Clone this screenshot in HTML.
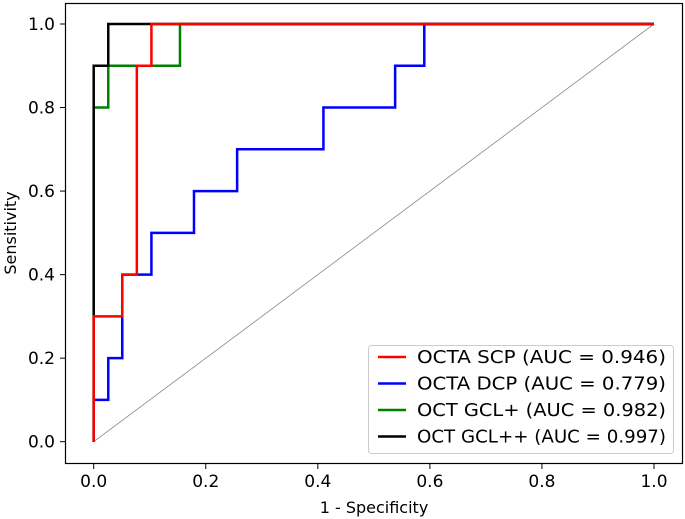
<!DOCTYPE html>
<html><head><meta charset="utf-8"><style>
body{margin:0;background:#fff;}
svg{display:block;font-family:"DejaVu Sans","Liberation Sans",sans-serif;}
</style></head><body>
<svg id="chart" width="685" height="519">
<rect x="65.5" y="3.5" width="617" height="460" fill="#fff" stroke="#000" stroke-width="1.2"/>
<g id="ticks"></g>
<g id="lines"></g>
<text x="16" y="233" transform="rotate(-90 16 233)" text-anchor="middle" font-size="16">Sensitivity</text>
<text x="374" y="513" text-anchor="middle" font-size="16">1 - Specificity</text>
<g>
<rect x="368.5" y="345.5" width="305" height="108" rx="3" fill="#fff" stroke="#ccc"/>
<g id="legend"></g>
</g>
</svg>
<script>
const seriesNames=["OCTA SCP (AUC = 0.946)","OCTA DCP (AUC = 0.779)","OCT GCL+ (AUC = 0.982)","OCT GCL++ (AUC = 0.997)"];
const seriesColors=["red","blue","green","black"];
const fprSCP=[0,0,0.051,0.051,0.077,0.077,0.103,0.103,1];
const tprSCP=[0,0.3,0.3,0.4,0.4,0.9,0.9,1,1];
const fprDCP=[0,0,0.026,0.026,0.051,0.051,0.103,0.103,0.179,0.179,0.256,0.256,0.41,0.41,0.538,0.538,0.59,0.59,1];
const tprDCP=[0,0.1,0.1,0.2,0.2,0.4,0.4,0.5,0.5,0.6,0.6,0.7,0.7,0.8,0.8,0.9,0.9,1,1];
const fprGCL1=[0,0,0.026,0.026,0.154,0.154,1];
const tprGCL1=[0,0.8,0.8,0.9,0.9,1,1];
const fprGCL2=[0,0,0.026,0.026,1];
const tprGCL2=[0,0.9,0.9,1,1];
const xTicks=[0,0.2,0.4,0.6,0.8,1.0];
const yTicks=[0,0.2,0.4,0.6,0.8,1.0];
const NS="http://www.w3.org/2000/svg";
const sx=v=>93.7+v*560.3, sy=v=>441.7-v*417.7;
const tk=document.getElementById('ticks');
function mk(t,a,p){const e=document.createElementNS(NS,t);for(const k in a)e.setAttribute(k,a[k]);p.appendChild(e);return e;}
xTicks.forEach(v=>{const l=mk('line',{x1:sx(v),x2:sx(v),y1:464,y2:469,stroke:'#000'},tk);


const t=mk('text',{x:sx(v),y:487,'text-anchor':'middle','font-size':17},tk);t.textContent=v.toFixed(1);

});
yTicks.forEach(v=>{const l=mk('line',{x1:60,x2:65,y1:sy(v),y2:sy(v),stroke:'#000'},tk);


const t=mk('text',{x:55,y:sy(v)+6,'text-anchor':'end','font-size':17},tk);t.textContent=v.toFixed(1);

});
const lg=document.getElementById('lines');
const diag=mk('line',{x1:sx(0),y1:sy(0),x2:sx(1),y2:sy(1),stroke:'#888','stroke-width':0.8},lg);


const data=[[fprDCP,tprDCP,1,'roc-octa-dcp'],[fprGCL1,tprGCL1,2,'roc-oct-gcl-plus'],[fprGCL2,tprGCL2,3,'roc-oct-gcl-plusplus'],[fprSCP,tprSCP,0,'roc-octa-scp']];
data.forEach(([xs,ys,i,n])=>{const p=mk('polyline',{points:xs.map((x,j)=>sx(x)+','+sy(ys[j])).join(' '),fill:'none',stroke:seriesColors[i],'stroke-width':2.5},lg);

});
const leg=document.getElementById('legend');
seriesNames.forEach((s,i)=>{const y=357+i*26.5;
const l=mk('line',{x1:378,x2:406,y1:y,y2:y,stroke:seriesColors[i],'stroke-width':2.5},leg);


const t=mk('text',{x:417,y:y+6,'font-size':17.5,textLength:249,lengthAdjust:'spacingAndGlyphs'},leg);t.textContent=s;

});
</script>
</body></html>
